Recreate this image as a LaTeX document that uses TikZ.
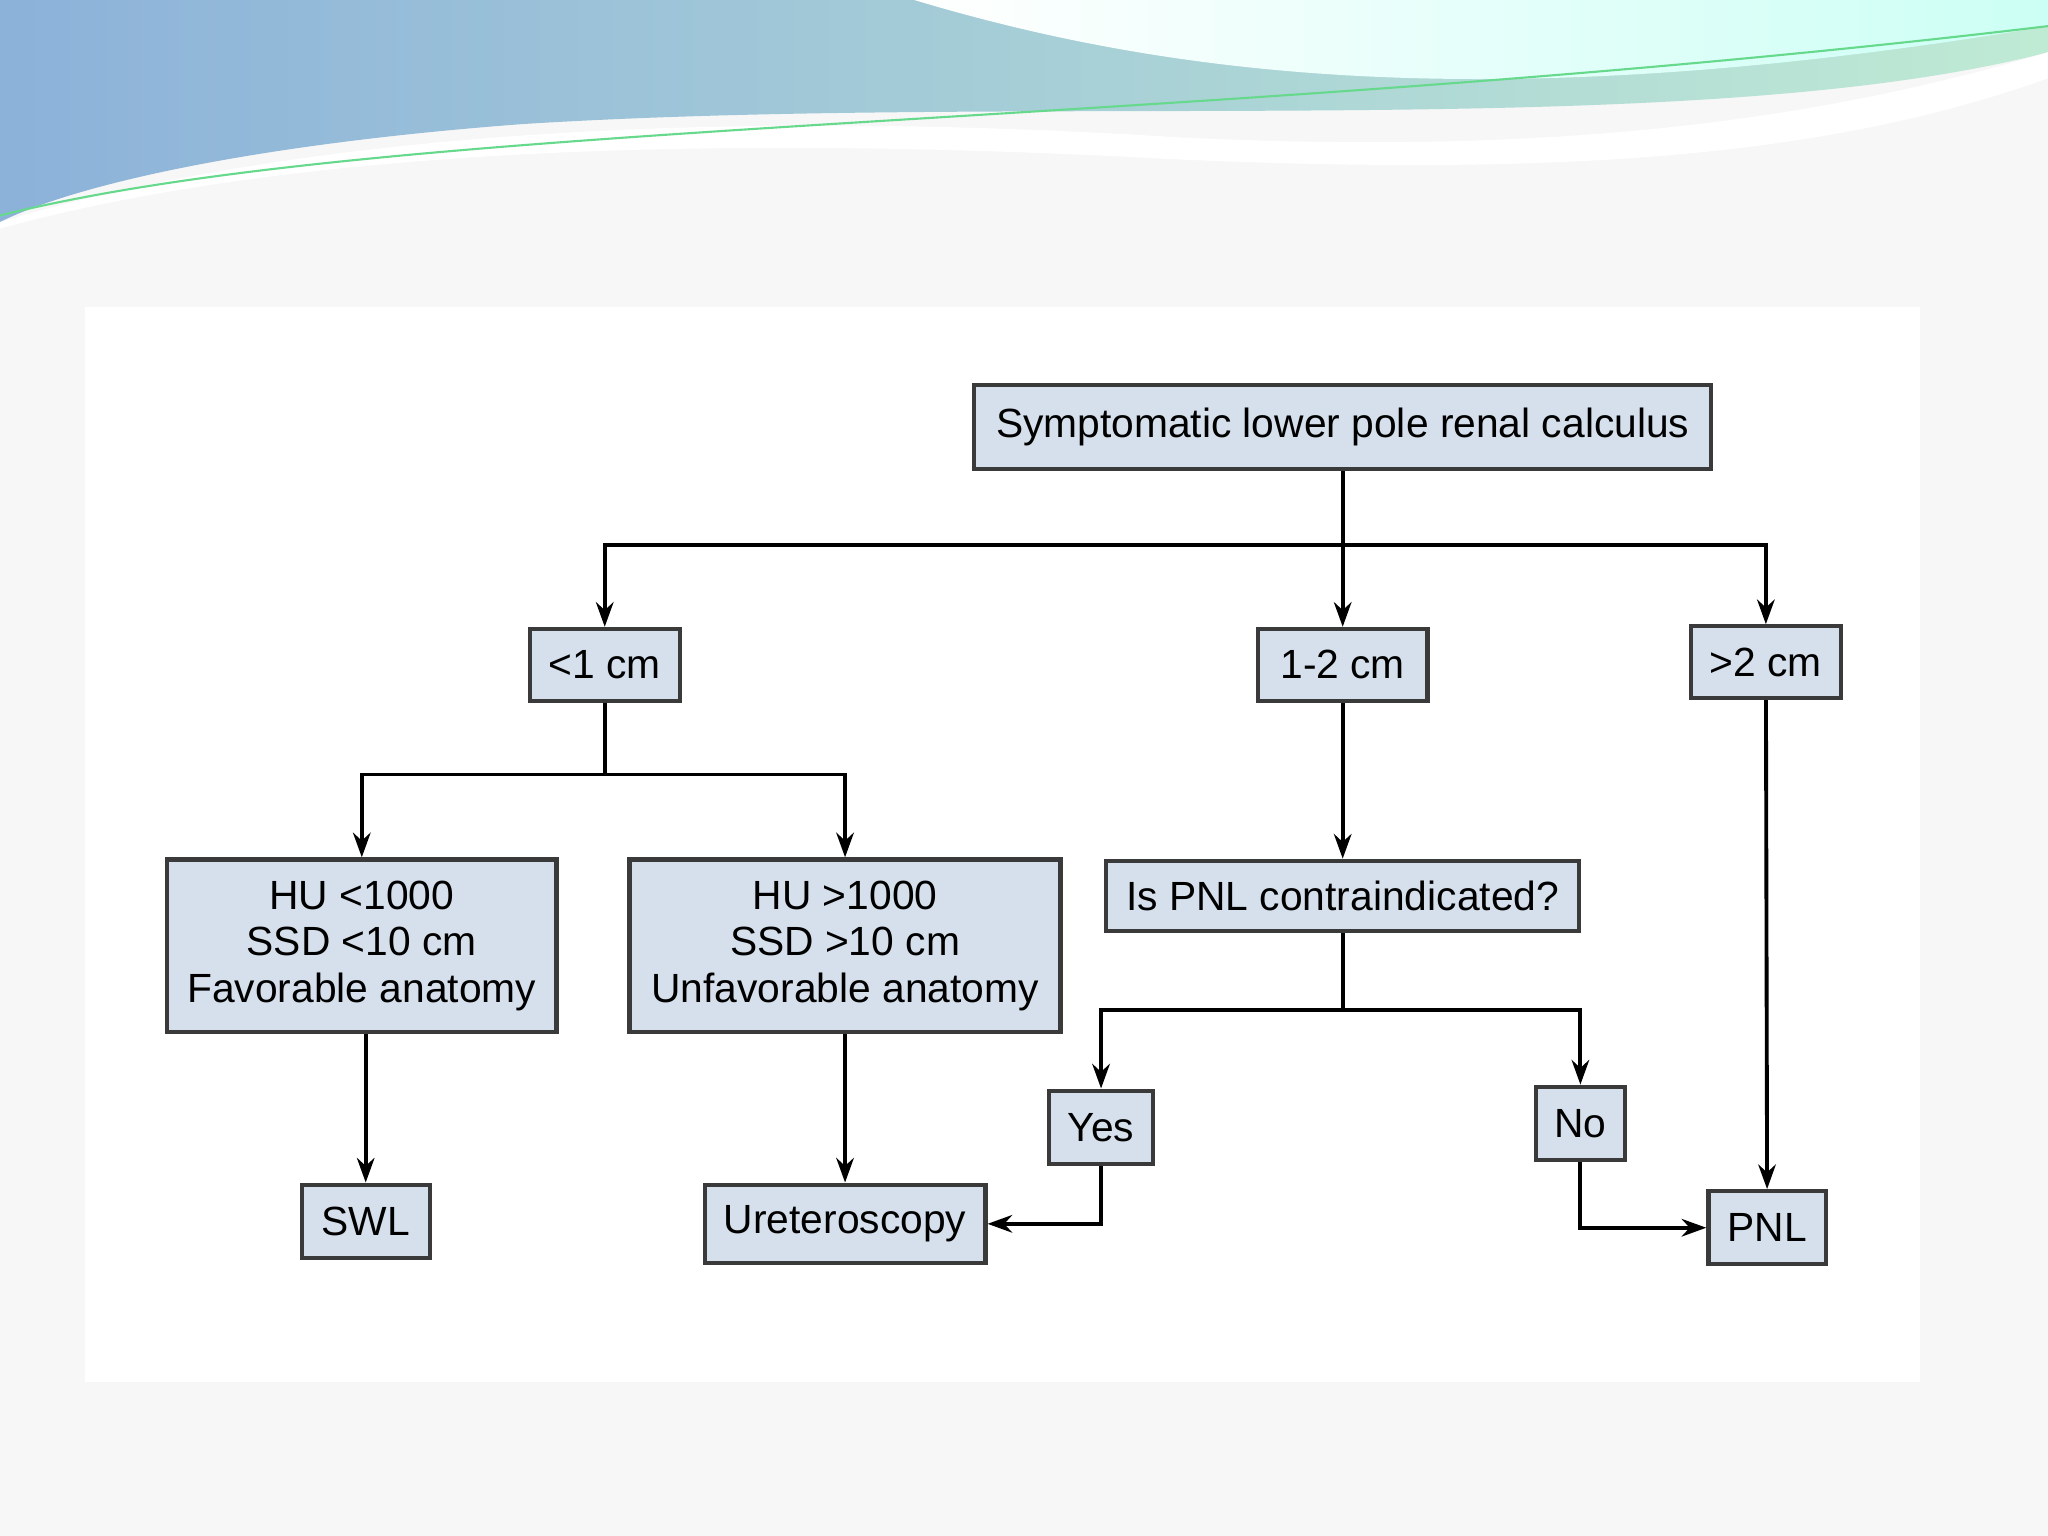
\documentclass[tikz,border=0pt]{standalone}
\usepackage{fontspec}
\setmainfont{Liberation Sans}
\usetikzlibrary{positioning,arrows.meta,shadings}
\definecolor{boxfill}{HTML}{D5E0EC}
\definecolor{boxline}{HTML}{3A3A3A}
\newcommand\pxu{0.013061cm}
\begin{document}
\begin{tikzpicture}[
    x=\pxu,y=-\pxu,
    box/.style={rectangle,draw=boxline,fill=boxfill,line width=1.2pt,align=center,
      font=\fontsize{11.6}{13.2}\selectfont,inner sep=0pt},
    size/.style 2 args={minimum width={#1*\pxu},minimum height={#2*\pxu}},
    arrow/.style={-{Stealth[length=7pt,width=5pt]},line width=1.1pt},
    link/.style={line width=1.1pt}
]
\useasboundingbox (0,0) rectangle (1568,1176);
\fill[black!3] (0,0) rectangle (1568,1176);
\fill[white] (65,235) rectangle (1470,1058);

% Header swoosh
\shade[left color=blue!35!teal!45,right color=green!35!teal!25]
  (0,0) -- (1568,0) -- (1568,40) .. controls (1300,110) and (800,70) .. (400,95)
  .. controls (200,110) and (60,140) .. (0,170) -- cycle;
\shade[left color=white,right color=green!20!cyan!20]
  (700,0) .. controls (900,60) and (1150,90) .. (1568,20) -- (1568,0) -- cycle;
\fill[white] (0,170) .. controls (200,110) and (500,80) .. (900,105)
  .. controls (1200,120) and (1400,90) .. (1568,40) -- (1568,60)
  .. controls (1400,120) and (1200,135) .. (900,122)
  .. controls (500,100) and (200,120) .. (0,175) -- cycle;
\draw[green!50!teal!60,line width=0.6pt] (0,165) .. controls (300,90) and (900,100) .. (1568,20);

% Level 1
\node[box,size={564}{64}] (top) at (1028,327) {Symptomatic lower pole renal calculus};

% Level 2
\node[box,size={115}{55}] (small) at (463,509) {<1 cm};
\node[box,size={130}{55}] (medium) at (1028,509) {1-2 cm};
\node[box,size={115}{55}] (large) at (1352,507) {>2 cm};

% Level 3
\node[box,size={298}{132}] (fav) at (277,724) {HU <1000\\SSD <10 cm\\Favorable anatomy};
\node[box,size={330}{132}] (unfav) at (647,724) {HU >1000\\SSD >10 cm\\Unfavorable anatomy};
\node[box,size={362}{54}] (contra) at (1028,686) {Is PNL contraindicated?};

% Level 4
\node[box,size={80}{56}] (yes) at (843,863) {Yes};
\node[box,size={68}{56}] (no) at (1210,860) {No};

% Treatments
\node[box,size={98}{56}] (swl) at (280,935) {SWL};
\node[box,size={215}{60}] (urs) at (647,937) {Ureteroscopy};
\node[box,size={90}{56}] (pnl) at (1353,940) {PNL};

% Junctions
\coordinate (splittop) at (1028,417);
\coordinate (splitsmall) at (463,593);
\coordinate (splitcontra) at (1028,773);

% Arrows
\draw[link] (top) -- (splittop);
\draw[arrow] (splittop) -| (small);
\draw[arrow] (splittop) -- (medium);
\draw[arrow] (splittop) -| (large);
\draw[link] (small) -- (splitsmall);
\draw[arrow] (splitsmall) -| (fav);
\draw[arrow] (splitsmall) -| (unfav);
\draw[arrow] (medium) -- (contra);
\draw[link] (contra) -- (splitcontra);
\draw[arrow] (splitcontra) -| (yes);
\draw[arrow] (splitcontra) -| (no);
\draw[arrow] (fav.south -| swl) -- (swl);
\draw[arrow] (unfav.south -| urs) -- (urs);
\draw[arrow] (large) -- (pnl);
\draw[arrow] (yes) |- (urs);
\draw[arrow] (no) |- (pnl);
\end{tikzpicture}
\end{document}
